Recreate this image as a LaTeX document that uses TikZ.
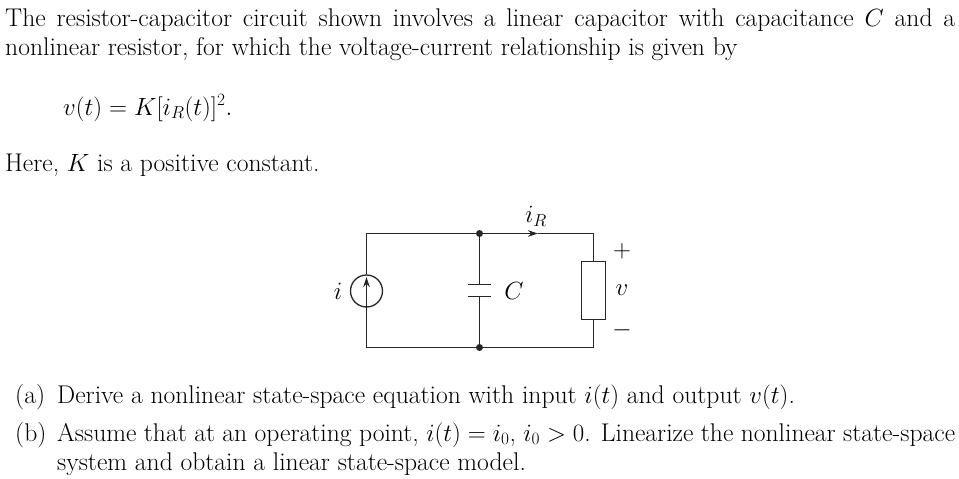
\documentclass[tikz,border=0pt]{standalone}
\usepackage{amstext,amsfonts,amssymb,amsmath}
\usetikzlibrary{arrows.meta}
\DeclareMathSizes{25.6}{25.6}{18}{13}
\tikzset{
	txt/.style={anchor=base west,inner sep=0pt,font=\fontsize{25.6}{29}\selectfont},
	lbl/.style={inner sep=0pt,font=\fontsize{25.6}{29}\selectfont},
	wire/.style={line width=1.3pt,black!85},
	dot/.style={circle,fill=black!85,inner sep=0pt,minimum size=7pt},
	plate/.style={line width=1.3pt,black!85},
	head/.style={-{Stealth[length=10pt,width=6.5pt]}},
}
\begin{document}
\begin{tikzpicture}[x=1pt,y=-1pt]
\useasboundingbox (0,0) rectangle (959,479);
% text
\node [txt] (line1) at (5,26) {\makebox[950pt][s]{The resistor-capacitor circuit shown involves a linear capacitor with capacitance $C$ and a}};
\node [txt] (line2) at (5,55) {nonlinear resistor, for which the voltage-current relationship is given by};
\node [txt] (law) at (63,115) {$v(t) = K[i_R(t)]^2.$};
\node [txt] (here) at (5,171) {Here, $K$ is a positive constant.};
\node [txt] (parta) at (15,403) {(a)};
\node [txt] (parta1) at (57,403) {Derive a nonlinear state-space equation with input $i(t)$ and output $v(t)$.};
\node [txt] (partb) at (15,441) {(b)};
\node [txt] (partb1) at (57,441) {\makebox[898pt][s]{Assume that at an operating point, $i(t)=i_0$, $i_0>0$. Linearize the nonlinear state-space}};
\node [txt] (partb2) at (57,470) {system and obtain a linear state-space model.};
% circuit
\coordinate (tl) at (366.5,233.5);
\coordinate (bl) at (366.5,347.5);
\coordinate (tr) at (593.5,233.5);
\coordinate (br) at (593.5,347.5);
\coordinate (capt) at (479.5,284.5);
\coordinate (capb) at (479.5,296.5);
\coordinate (tip) at (538,233.5);
\node [dot] (top) at (479.5,233.5) {};
\node [dot] (bot) at (479.5,347.5) {};
\node [draw,wire,circle,inner sep=0pt,minimum size=32pt] (src) at (366.5,291) {};
\node [draw,wire,rectangle,inner sep=0pt,minimum width=24pt,minimum height=58pt] (res) at (593.5,290.5) {};
\draw [wire] (src.north) -- (tl) -- (top);
\draw [wire,head] (top) -- (tip);
\draw [wire] (tip) -- (tr) -- (res.north);
\draw [wire] (src.south) -- (bl) -- (bot) -- (br) -- (res.south);
\draw [wire] (top) -- (capt);
\draw [wire] (bot) -- (capb);
\draw [plate] (468,284.5) -- (capt) -- (491,284.5);
\draw [plate] (468,296.5) -- (capb) -- (491,296.5);
\draw [wire,head] (src.south) -- (366.5,277);
% labels
\node [lbl] (li) at (338,291) {$i$};
\node [lbl] (lc) at (514,291) {$C$};
\node [lbl] (lir) at (536,216) {$i_R$};
\node [lbl] (lplus) at (622,251) {$+$};
\node [lbl] (lv) at (622,290) {$v$};
\node [lbl] (lminus) at (622,330) {$-$};
\end{tikzpicture}
\end{document}
